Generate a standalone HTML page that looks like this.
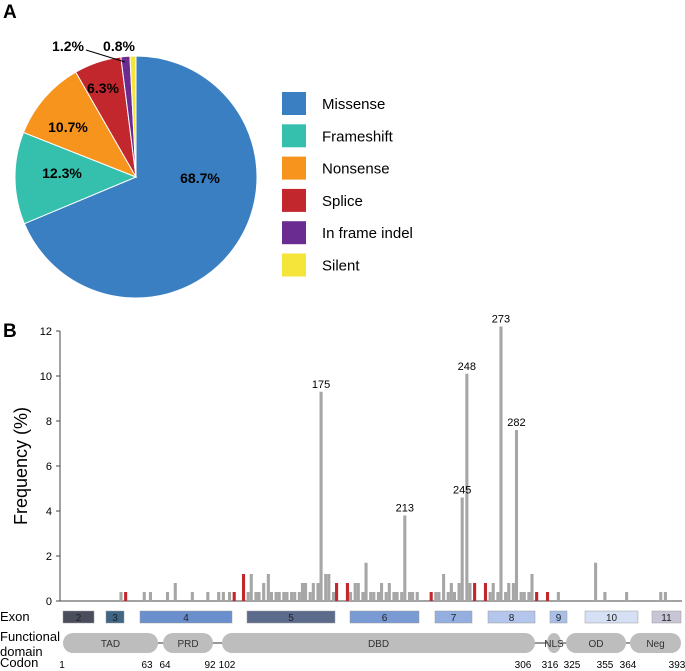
<!DOCTYPE html>
<html><head><meta charset="utf-8"><style>
body{margin:0;background:#fff;font-family:"Liberation Sans",sans-serif}
svg{display:block}
</style></head><body>
<svg id="fig" width="685" height="671" font-family="Liberation Sans, sans-serif">
<text x="3" y="18" font-size="19" font-weight="bold">A</text>
<text x="3" y="337" font-size="19" font-weight="bold">B</text>
<g id="pie"></g>
<g id="legend"></g>
<g id="bars"></g>
<g id="track"></g>
</svg>
<script>
const pieCats=["Missense","Frameshift","Nonsense","Splice","In frame indel","Silent"];
const pieVals=[68.7,12.3,10.7,6.3,1.2,0.8];
const pieColors=["#3a7fc1","#35bfad","#f7941d","#c1272d","#6a2c91","#f5e53a"];
const codons=[39,42,54,58,69,74,85,95,102,105,109,112,118,121,123,126,128,131,134,136,139,141,144,146,149,151,154,156,158,161,163,166,168,171,173,176,178,185,187,190,192,195,197,200,202,205,207,210,212,215,217,220,222,225,227,230,239,242,244,247,250,252,254,257,259,262,264,267,274,277,279,282,284,287,289,292,294,297,299,302,304,307,314,321,345,351,365,387,390];
const freqs=[0.4,0.4,0.4,0.4,0.4,0.8,0.4,0.4,0.4,0.4,0.4,0.4,1.2,0.4,1.2,0.4,0.4,0.8,1.2,0.4,0.4,0.4,0.4,0.4,0.4,0.4,0.4,0.8,0.8,0.4,0.8,0.8,9.3,1.2,1.2,0.4,0.8,0.8,0.4,0.8,0.8,0.4,1.7,0.4,0.4,0.4,0.8,0.4,0.8,0.4,0.4,0.4,3.8,0.4,0.4,0.4,0.4,0.4,0.4,1.2,0.4,0.8,0.4,0.8,4.6,10.1,0.8,0.8,0.8,0.4,0.8,0.4,12.2,0.4,0.8,0.8,7.6,0.4,0.4,0.4,1.2,0.4,0.4,0.4,1.7,0.4,0.4,0.4,0.4];
const splice=[1,11,12,36,37,56,67,68,81,82];
const peakCodons=[175,213,245,248,273,282];
const peakIdx=[32,52,64,65,72,76];
const yTicks=[0,2,4,6,8,10,12];
const codonTicks=[1,63,64,92,102,306,316,325,355,364,393];
const NS="http://www.w3.org/2000/svg";
function mk(t,a,p){const e=document.createElementNS(NS,t);for(const k in a)e.setAttribute(k,a[k]);p.appendChild(e);return e;}
// pie
const pie=document.getElementById('pie');
const cx=136,cy=177,r=121;
let tot=pieVals.reduce((a,b)=>a+b,0),acc=0;
pieVals.forEach((v,i)=>{
  const a0=acc/tot*2*Math.PI;acc+=v;const a1=acc/tot*2*Math.PI;
  const x0=cx+r*Math.sin(a0),y0=cy-r*Math.cos(a0),x1=cx+r*Math.sin(a1),y1=cy-r*Math.cos(a1);
  const p=mk('path',{d:`M${cx},${cy}L${x0},${y0}A${r},${r} 0 ${a1-a0>Math.PI?1:0} 1 ${x1},${y1}Z`,fill:pieColors[i],stroke:'#fff','stroke-width':1},pie);
  
  
});
const pl=[[200,183,"68.7%"],[62,178,"12.3%"],[68,132,"10.7%"],[103,93,"6.3%"],[68,51,"1.2%"],[119,51,"0.8%"]];
pl.forEach((q,i)=>{const t=mk('text',{x:q[0],y:q[1],'font-size':14,'font-weight':'bold','text-anchor':'middle'},pie);t.textContent=q[2];

});
mk('line',{x1:86,y1:50,x2:125,y2:62,stroke:'#000','stroke-width':1},pie);
// legend
const lg=document.getElementById('legend');
pieCats.forEach((c,i)=>{const y=92+i*32.3;
 const rc=mk('rect',{x:282,y:y,width:24,height:23,fill:pieColors[i]},lg);
 
 
 const t=mk('text',{x:322,y:y+17,'font-size':15},lg);t.textContent=c;
 
 });
// bars
const bg=document.getElementById('bars');
const y0=601,py=22.5;
const X=c=>62+(c-1)*1.551, Y=v=>y0-v*py;
mk('line',{x1:60,y1:331,x2:60,y2:y0,stroke:'#444'},bg);
mk('line',{x1:60,y1:y0,x2:682,y2:y0,stroke:'#444'},bg);
yTicks.forEach(v=>{mk('line',{x1:56,y1:Y(v),x2:60,y2:Y(v),stroke:'#444'},bg);
 const t=mk('text',{x:52,y:Y(v)+4,'font-size':11,'text-anchor':'end'},bg);t.textContent=v;
 
 });
const yt=mk('text',{x:27,y:466,'font-size':18,'text-anchor':'middle',transform:'rotate(-90 27 466)'},bg);yt.textContent="Frequency (%)";


codons.forEach((c,i)=>{const red=splice.includes(i);
 const b=mk('rect',{x:X(c)-1.5,y:Y(freqs[i]),width:3.1,height:freqs[i]*py,fill:red?'#c1272d':'#a6a6a6'},bg);
 
 });
peakIdx.forEach((k,j)=>{const t=mk('text',{x:X(codons[k]),y:Y(freqs[k])-4,'font-size':11,'text-anchor':'middle'},bg);t.textContent=peakCodons[j];
 
 });
// track
const tg=document.getElementById('track');
[["Exon",621],["Functional",641],["domain",656],["Codon",667]].forEach(q=>{const t=mk('text',{x:0,y:q[1],'font-size':13},tg);t.textContent=q[0];
 
 });
const exons=[["2",63,94,"#4a4e5c"],["3",106,124,"#3f6685"],["4",140,232,"#6a8fcc"],["5",247,335,"#5c6a8c"],["6",350,419,"#7a9ad4"],["7",435,472,"#94aee0"],["8",488,535,"#b4c6ec"],["9",550,567,"#a9bfe8"],["10",585,638,"#d6e0f5"],["11",652,681,"#c8c6d6"]];
exons.forEach(e=>{const rc=mk('rect',{x:e[1],y:611,width:e[2]-e[1],height:12,fill:e[3],stroke:'#999','stroke-width':0.5},tg);
 
 
 const t=mk('text',{x:(e[1]+e[2])/2,y:621,'font-size':10,'text-anchor':'middle',fill:'#222'},tg);t.textContent=e[0];});
mk('line',{x1:158,y1:643,x2:630,y2:643,stroke:'#333'},tg);
const doms=[["TAD",63,158],["PRD",163,213],["DBD",222,535],["OD",566,626],["Neg",630,681]];
doms.forEach(d=>{const rc=mk('rect',{x:d[1],y:633,width:d[2]-d[1],height:20,rx:10,fill:'#bdbdbd'},tg);
 
 
 const t=mk('text',{x:(d[1]+d[2])/2,y:647,'font-size':10,'text-anchor':'middle',fill:'#333'},tg);t.textContent=d[0];});
const nl=mk('ellipse',{cx:554,cy:643,rx:7,ry:10,fill:'#bdbdbd'},tg);


const nt=mk('text',{x:554,y:647,'font-size':10,'text-anchor':'middle',fill:'#333'},tg);nt.textContent="NLS";
const cxs=[62,147,165,210,227,523,550,572,605,628,677];
codonTicks.forEach((c,i)=>{const t=mk('text',{x:cxs[i],y:668,'font-size':10,'text-anchor':'middle'},tg);t.textContent=c;
 
 });
</script>
</body></html>
